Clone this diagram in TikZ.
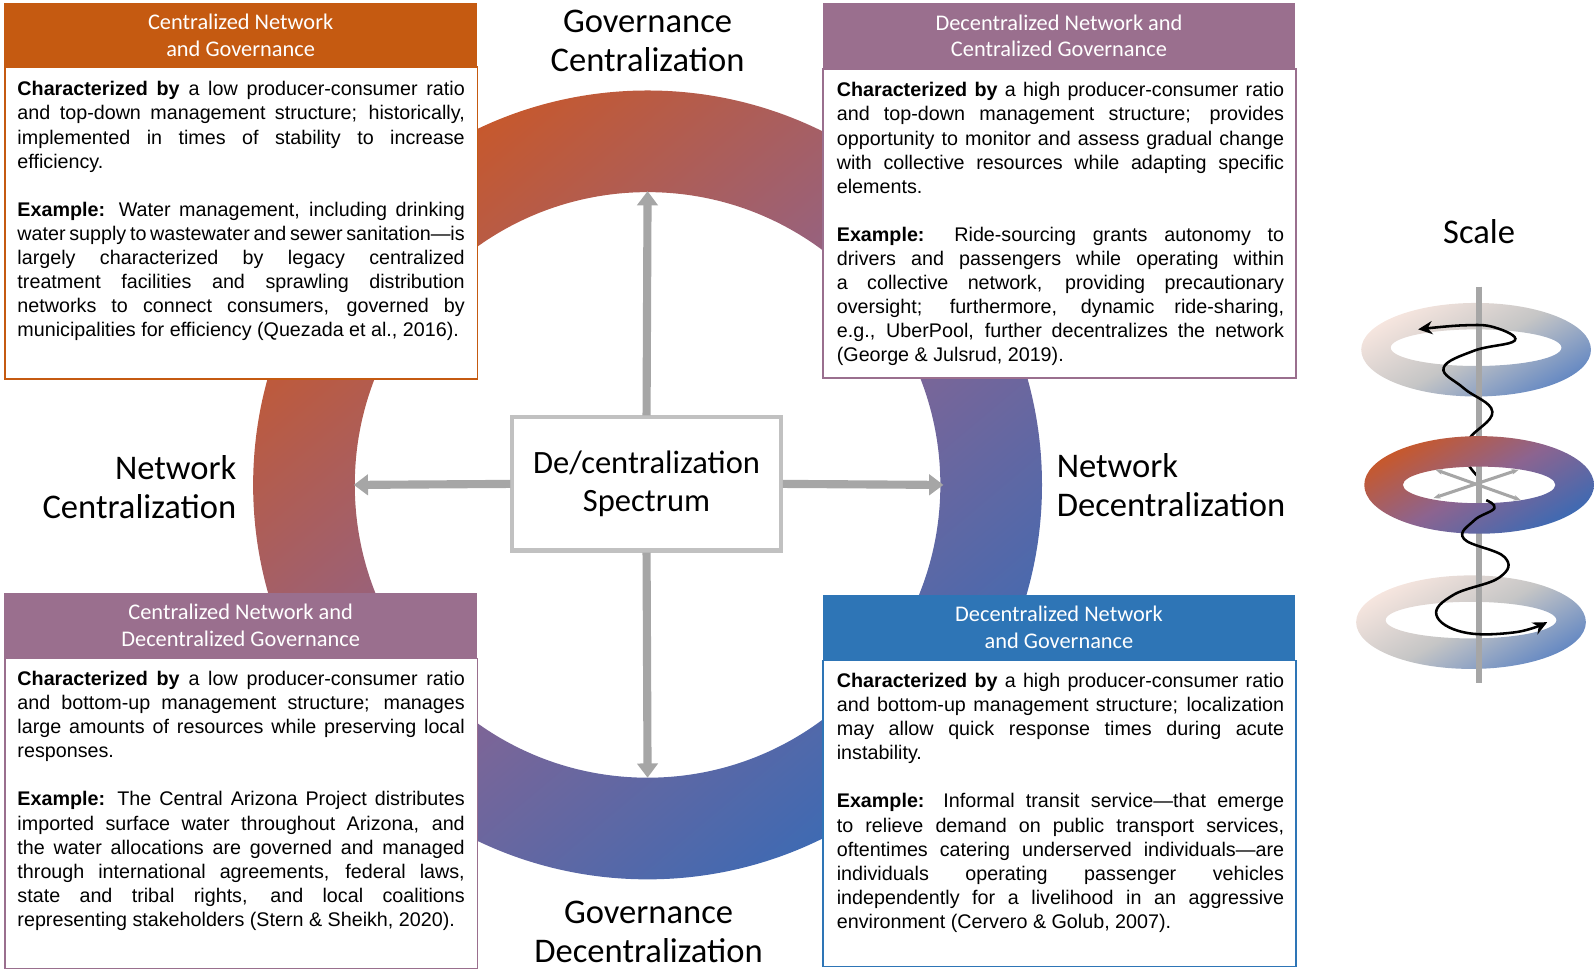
\documentclass[tikz,border=0pt]{standalone}
\usepackage{fontspec}
\setmainfont{Liberation Sans}
\newfontfamily\calfnt{Carlito}
\usetikzlibrary{arrows.meta}
\definecolor{corange}{HTML}{C55A11}
\definecolor{cpurple}{HTML}{9A6F8E}
\definecolor{cblue}{HTML}{2E75B6}
\definecolor{rorange}{HTML}{C8582A}
\definecolor{rblue}{HTML}{3D6AB3}
\definecolor{rpurple}{HTML}{8C6490}
\definecolor{agray}{HTML}{A6A6A6}
\tikzset{
  hdr/.style={fill=#1, text=white, font=\calfnt\fontsize{22}{26}\selectfont, align=center, minimum width=465, minimum height=63, inner sep=0, anchor=north west},
  bodyt/.style={draw=#1, line width=1.5, fill=white, minimum width=465, anchor=north west, inner sep=0},
  big/.style={font=\calfnt\fontsize{34}{38.5}\selectfont},
  garrow/.style={draw=agray, line width=8, -{Triangle[length=14,width=20]}},
}
\newcommand{\bodypar}[1]{\parbox[t]{440pt}{\fontsize{19.4}{23.7}\selectfont\hyphenpenalty=10000\exhyphenpenalty=10000\tolerance=9999\emergencystretch=20pt\setlength{\parskip}{23.7pt}#1}}
\begin{document}
\begin{tikzpicture}[x=1pt,y=-1pt]
% ring
\shade[even odd rule, left color=rorange, right color=rblue, middle color=rpurple, shading angle=40]
  (637,477) circle[radius=388] (637,477) circle[radius=288];
% arrows
\node[draw=agray!70, line width=4, fill=white, minimum width=264, minimum height=131, align=center, font=\calfnt\fontsize{32}{38}\selectfont] (c) at (636,476) {De/centralization\\Spectrum};
\coordinate (up) at (637,188);
\coordinate (dn) at (637,765);
\coordinate (lf) at (348,477);
\coordinate (rt) at (928,477);
\draw[garrow] (c.north) -- (up);
\draw[garrow] (c.south) -- (dn);
\draw[garrow] (c.west) -- (lf);
\draw[garrow] (c.east) -- (rt);
% big labels
\node[big, align=center] (gc) at (637,40) {Governance\\Centralization};
\node[big, align=center] (gd) at (638,917) {Governance\\Decentralization};
\node[big, align=right, anchor=east] (nc) at (236,479) {Network\\Centralization};
\node[big, align=left, anchor=west] (nd) at (1036,477) {Network\\Decentralization};
\node[big] (sc) at (1455,228) {Scale};
% boxes
\node[bodyt=corange, minimum height=307] (b1) at (4,65) {};
\node[hdr=corange] (h1) at (4,3) {Centralized Network\\and Governance};
\node[anchor=north west, inner sep=0] (t1) at (17,80) {\bodypar{\textbf{Characterized by} a low producer-consumer ratio and top-down management structure; historically, implemented in times of stability to increase efficiency.\par
\textbf{Example:} Water management, including drinking water supply to wastewater and sewer sanitation---is largely characterized by legacy centralized treatment facilities and sprawling distribution networks to connect consumers, governed by municipalities for efficiency (Quezada et al., 2016).}};

\node[bodyt=cpurple, minimum height=304] (b2) at (809,67) {};
\node[hdr=cpurple, minimum height=64] (h2) at (809,3) {Decentralized Network and\\Centralized Governance};
\node[anchor=north west, inner sep=0] (t2) at (823,81) {\bodypar{\textbf{Characterized by} a high producer-consumer ratio and top-down management structure; provides opportunity to monitor and assess gradual change with collective resources while adapting specific elements.\par
\textbf{Example:} Ride-sourcing grants autonomy to drivers and passengers while operating within a collective network, providing precautionary oversight; furthermore, dynamic ride-sharing, e.g., UberPool, further decentralizes the network (George \& Julsrud, 2019).}};

\node[bodyt=cpurple, minimum height=305] (b3) at (4,647) {};
\node[hdr=cpurple, minimum height=64] (h3) at (4,583) {Centralized Network and\\Decentralized Governance};
\node[anchor=north west, inner sep=0] (t3) at (17,660) {\bodypar{\textbf{Characterized by} a low producer-consumer ratio and bottom-up management structure; manages large amounts of resources while preserving local responses.\par
\textbf{Example:} The Central Arizona Project distributes imported surface water throughout Arizona, and the water allocations are governed and managed through international agreements, federal laws, state and tribal rights, and local coalitions representing stakeholders (Stern \& Sheikh, 2020).}};

\node[bodyt=cblue, minimum height=301] (b4) at (809,649) {};
\node[hdr=cblue, minimum height=64] (h4) at (809,585) {Decentralized Network\\and Governance};
\node[anchor=north west, inner sep=0] (t4) at (823,662) {\bodypar{\textbf{Characterized by} a high producer-consumer ratio and bottom-up management structure; localization may allow quick response times during acute instability.\par
\textbf{Example:} Informal transit service---that emerge to relieve demand on public transport services, oftentimes catering underserved individuals---are individuals operating passenger vehicles independently for a livelihood in an aggressive environment (Cervero \& Golub, 2007).}};

% scale icon
\shade[even odd rule, left color=white!85!rorange, right color=rblue!80, middle color=gray!45, shading angle=30]
  (1452,344) ellipse[x radius=113, y radius=46] (1452,342) ellipse[x radius=84, y radius=18];
\shade[even odd rule, left color=white!85!rorange, right color=rblue!80, middle color=gray!45, shading angle=30]
  (1447,612) ellipse[x radius=113, y radius=46] (1447,610) ellipse[x radius=84, y radius=18];
\draw[agray, line width=6] (1455,282) -- (1455,672);
\draw[black, line width=2.5, -{Stealth[length=14,width=13]}] plot[smooth, tension=0.7] coordinates {(1455,470) (1442,452) (1445,432) (1468,405) (1440,382) (1420,362) (1450,345) (1490,335) (1470,322) (1440,320) (1395,324)};
\shade[even odd rule, left color=rorange, right color=rblue, middle color=rpurple, shading angle=30]
  (1455,477) ellipse[x radius=113, y radius=48] (1455,477) ellipse[x radius=75, y radius=18];
\draw[agray, line width=6] (1455,459) -- (1455,495);
\draw[agray, line width=3, {Stealth[length=7]}-{Stealth[length=7]}] (1412,462) -- (1496,492);
\draw[agray, line width=3, {Stealth[length=7]}-{Stealth[length=7]}] (1410,490) -- (1494,462);
\draw[black, line width=2.5, -{Stealth[length=14,width=13]}] plot[smooth, tension=0.7] coordinates {(1462,492) (1470,500) (1450,512) (1440,530) (1480,548) (1475,568) (1430,585) (1413,605) (1440,622) (1490,622) (1522,612)};
\pgfresetboundingbox
\useasboundingbox (0,0) rectangle (1568,954);
\end{tikzpicture}
\end{document}
